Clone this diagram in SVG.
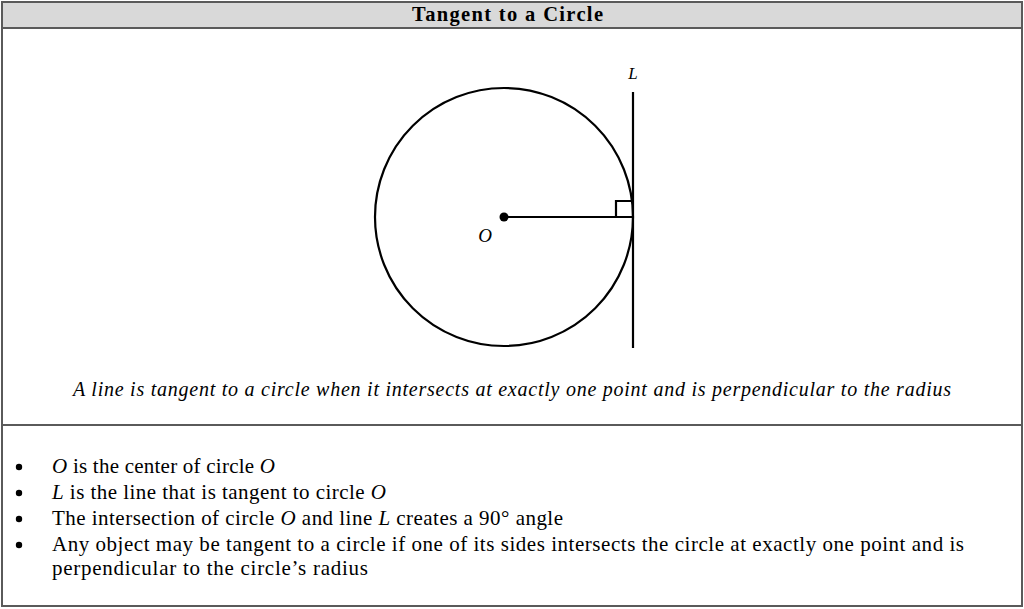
<svg xmlns="http://www.w3.org/2000/svg" width="1024" height="609" viewBox="0 0 1024 609">
<style>
.bd{stroke:#5a5a5a;stroke-width:2;fill:none}
.ink{stroke:#000;stroke-width:2.2;fill:none}
.t{font-family:"Liberation Serif","DejaVu Serif",serif;fill:#000}
.b{font-size:21px}
.i{font-style:italic}
</style>
<rect x="0" y="0" width="1024" height="609" fill="#fff"/>
<g id="header">
<rect x="2" y="2" width="1020" height="26" fill="#d9d9d9"/>
<text class="t" x="412" y="21" font-size="20.5" font-weight="bold" textLength="191">Tangent to a Circle</text>
</g>
<g id="table">
<rect class="bd" x="2" y="2" width="1020" height="604"/>
<line class="bd" x1="2" y1="28" x2="1022" y2="28"/>
<line class="bd" x1="2" y1="425" x2="1022" y2="425"/>
</g>
<g id="figure">
<circle class="ink" cx="504" cy="217" r="129"/>
<line class="ink" x1="633" y1="92" x2="633" y2="348"/>
<line class="ink" x1="504" y1="217" x2="633" y2="217"/>
<polyline class="ink" points="633,201 616,201 616,217" stroke-width="1.6"/>
<circle cx="504" cy="217" r="4.5" fill="#000"/>
<text class="t i" x="633" y="79" text-anchor="middle" font-size="17">L</text>
<text class="t i" x="485" y="242" text-anchor="middle" font-size="19">O</text>
</g>
<g id="caption">
<text class="t i" x="73" y="396" font-size="20" textLength="878">A line is tangent to a circle when it intersects at exactly one point and is perpendicular to the radius</text>
</g>
<g id="notes" class="t b">
<circle cx="19" cy="467" r="3.2" fill="#000"/>
<circle cx="19" cy="493" r="3.2" fill="#000"/>
<circle cx="19" cy="519" r="3.2" fill="#000"/>
<circle cx="19" cy="545" r="3.2" fill="#000"/>
<text x="52" y="473" textLength="223"><tspan class="i">O</tspan> is the center of circle <tspan class="i">O</tspan></text>
<text x="52" y="499" textLength="334"><tspan class="i">L</tspan> is the line that is tangent to circle <tspan class="i">O</tspan></text>
<text x="52" y="525" textLength="511">The intersection of circle <tspan class="i">O</tspan> and line <tspan class="i">L</tspan> creates a 90° angle</text>
<text x="52" y="551" textLength="912">Any object may be tangent to a circle if one of its sides intersects the circle at exactly one point and is</text>
<text x="52" y="575" textLength="316">perpendicular to the circle’s radius</text>
</g>
</svg>
